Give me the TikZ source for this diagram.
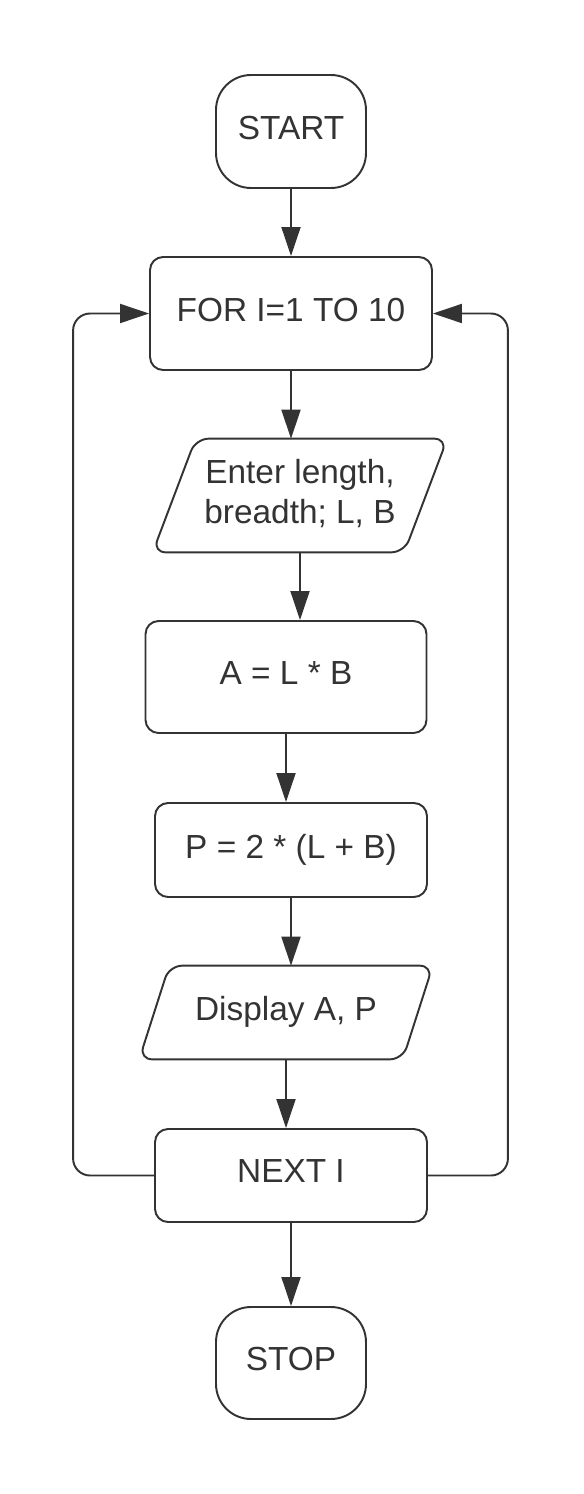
\documentclass[tikz,border=0pt]{standalone}
\usepackage{fontspec}
\setmainfont{Liberation Sans}
\usetikzlibrary{arrows.meta}
\definecolor{ink}{RGB}{51,51,51}

\begin{document}
\begin{tikzpicture}[x=0.02cm, y=-0.02cm,
  every node/.style={font=\fontsize{19}{22.4}\selectfont, text=ink, text depth=4.6pt, align=center},
  term/.style={draw=ink, line width=1.1pt, rectangle, rounded corners=0.7cm, minimum width=3cm, minimum height=2.26cm},
  box/.style={draw=ink, line width=1.1pt, rectangle, rounded corners=0.26cm},
  io/.style={rectangle, inner sep=0pt},
  ioline/.style={draw=ink, line width=1.1pt, rounded corners=0.26cm},
  arr/.style={draw=ink, line width=1.1pt, -{Triangle[length=16.5pt,width=10.8pt]}}]
\useasboundingbox (0,0) rectangle (583,1494);
% flowchart boxes
\node[term] (start) at (291,131.5) {START};
\node[box, minimum width=5.64cm, minimum height=2.26cm] (loop) at (291,313.5) {FOR I=1 TO 10};
\node[io, minimum width=5.88cm, minimum height=2.26cm] (in) at (300,495.5) {Enter length,\\breadth; L, B};
\node[box, minimum width=5.62cm, minimum height=2.24cm] (area) at (286,677) {A = L * B};
\node[box, minimum width=5.44cm, minimum height=1.88cm] (perim) at (291,850) {P = 2 * (L + B)};
\node[io, minimum width=5.86cm, minimum height=1.86cm] (disp) at (286,1012.5) {Display A, P};
\node[box, minimum width=5.44cm, minimum height=1.86cm] (next) at (291,1175.5) {NEXT I};
\node[term, minimum height=2.24cm] (stop) at (291,1363) {STOP};
% parallelograms
\draw[ioline] (in.south west) -- ([xshift=0.86cm]in.north west) -- (in.north east) -- ([xshift=-0.86cm]in.south east) -- cycle;
\draw[ioline] (disp.south west) -- ([xshift=0.6cm]disp.north west) -- (disp.north east) -- ([xshift=-0.6cm]disp.south east) -- cycle;
% connectors
\draw[arr] (start) -- (loop);
\draw[arr] (loop.south) -- (loop.south |- in.north);
\draw[arr] (in.south) -- (in.south |- area.north);
\draw[arr] (area.south) -- (area.south |- perim.north);
\draw[arr] (perim.south) -- (perim.south |- disp.north);
\draw[arr] (disp.south) -- (disp.south |- next.north);
\draw[arr] (next) -- (stop);
% loop back
\draw[arr, rounded corners=0.34cm] (next.west) -| ([xshift=-1.52cm]loop.west) -- (loop.west);
\draw[arr, rounded corners=0.34cm] (next.east) -| ([xshift=1.5cm]loop.east) -- (loop.east);
\end{tikzpicture}
\end{document}
